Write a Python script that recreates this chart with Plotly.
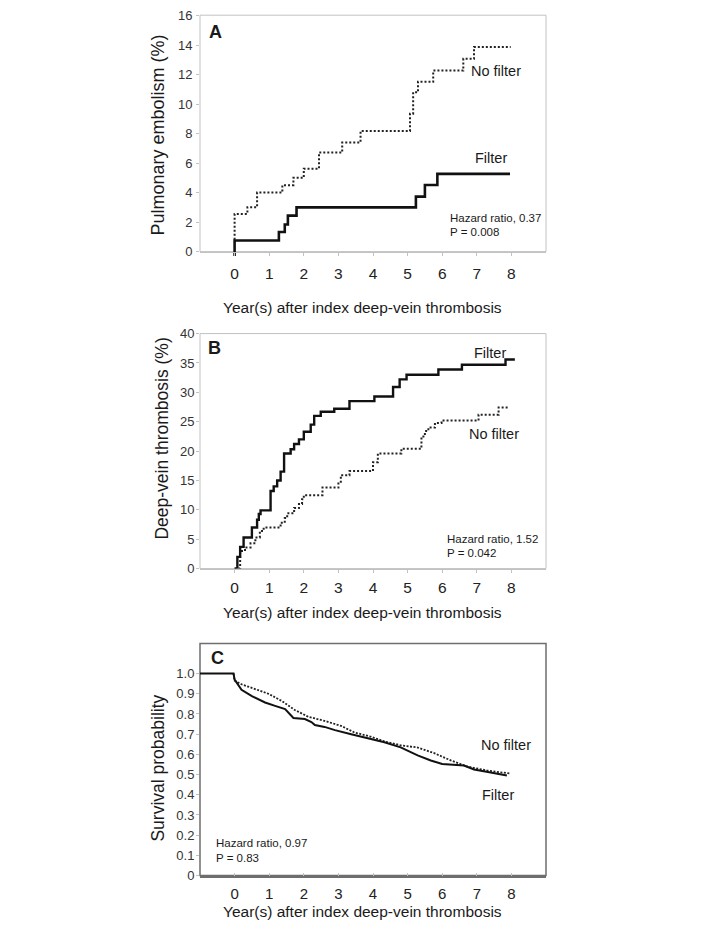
import plotly.graph_objects as go

# ---------------- data ----------------
years_ticks = [0, 1, 2, 3, 4, 5, 6, 7, 8]

# Panel A: pulmonary embolism (%)
a_filter_x = [0, 0, 1.28, 1.45, 1.54, 1.79, 5.24, 5.50, 5.86, 7.96]
a_filter_y = [-0.3, 0.75, 1.33, 1.84, 2.44, 3.0, 3.73, 4.51, 5.27, 5.27]
a_nofilter_x = [0, 0, 0.37, 0.65, 1.38, 1.70, 2.00, 2.44, 3.11, 3.64, 5.07, 5.16, 5.30, 5.74, 6.61, 6.92, 7.98]
a_nofilter_y = [0.8, 2.55, 3.0, 4.0, 4.5, 5.0, 5.62, 6.72, 7.4, 8.18, 9.35, 10.8, 11.52, 12.27, 13.07, 13.87, 13.87]
a_yticks = [0, 2, 4, 6, 8, 10, 12, 14, 16]

# Panel B: deep-vein thrombosis (%)
b_filter_x = [0, 0.08, 0.16, 0.26, 0.5, 0.65, 0.7, 0.75, 1.04, 1.13, 1.23, 1.33, 1.43, 1.62, 1.72, 1.86,
              2.0, 2.2, 2.3, 2.49, 2.88, 3.32, 4.04, 4.58, 4.77, 4.97, 5.89, 6.57, 7.83, 8.1]
b_filter_y = [0, 2.0, 3.7, 5.3, 7.0, 8.3, 9.3, 9.9, 13.2, 14.0, 15.0, 16.5, 19.6, 20.3, 21.2, 22.0,
              23.3, 24.5, 26.0, 26.7, 27.2, 28.5, 29.3, 30.9, 32.2, 33.0, 33.9, 34.7, 35.6, 35.6]
b_nofilter_x = [0, 0.16, 0.3, 0.46, 0.6, 0.73, 0.84, 1.33, 1.45, 1.52, 1.72, 1.86, 1.95, 2.0, 2.54, 3.0,
                3.07, 3.32, 4.0, 4.14, 4.82, 5.4, 5.5, 5.6, 5.79, 5.98, 7.05, 7.63, 7.92]
b_nofilter_y = [0, 3.0, 3.6, 4.3, 5.3, 6.4, 7.0, 7.8, 8.6, 9.4, 10.3, 11.0, 11.8, 12.5, 13.8, 14.5,
                15.9, 16.6, 18.1, 19.6, 20.4, 22.5, 23.4, 24.0, 24.8, 25.2, 26.2, 27.4, 27.4]
b_yticks = [0, 5, 10, 15, 20, 25, 30, 35, 40]

# Panel C: survival probability
c_filter_x = [-1, -0.03, 0, 0.2, 0.5, 0.88, 1.17, 1.46, 1.7, 2.03, 2.22, 2.32, 2.6, 2.9, 3.37, 3.85,
              4.33, 4.8, 5.29, 5.67, 6.0, 6.63, 6.92, 7.4, 7.87]
c_filter_y = [1.0, 1.0, 0.97, 0.92, 0.888, 0.857, 0.84, 0.824, 0.78, 0.775, 0.76, 0.745, 0.736, 0.72,
              0.70, 0.68, 0.66, 0.635, 0.595, 0.57, 0.552, 0.545, 0.525, 0.51, 0.495]
c_nofilter_x = [-0.03, 0, 0.2, 0.6, 0.98, 1.36, 1.74, 2.13, 2.6, 3.08, 3.47, 3.95, 4.33, 4.8, 5.29,
                5.77, 6.25, 6.72, 7.3, 7.97]
c_nofilter_y = [1.0, 0.965, 0.947, 0.922, 0.90, 0.865, 0.82, 0.786, 0.766, 0.741, 0.708, 0.687, 0.664,
                0.645, 0.634, 0.606, 0.57, 0.54, 0.52, 0.505]
c_yticks = [0, 0.1, 0.2, 0.3, 0.4, 0.5, 0.6, 0.7, 0.8, 0.9, 1.0]
c_yticklabels = ["0", "0.1", "0.2", "0.3", "0.4", "0.5", "0.6", "0.7", "0.8", "0.9", "1.0"]

x_title = "Year(s) after index deep-vein thrombosis"

# ---------------- layout helpers ----------------
# page offset/scale observed in the photographed page: shown = offset + scale * figure px
W, H = 697, 936
OX, OY, SY = 8.0, 14.4, 0.984
FONT = "Liberation Sans, Arial, Helvetica, sans-serif"


def px(x):
    return (x - OX) / W


def py(y):
    return min(1.0, 1 - ((y - OY) / SY) / H)


def panel(top_px, bot_px, v1, p1, v2, p2):
    """domain from pixel limits; range so that value v1 sits at pixel p1 and v2 at p2."""
    top_px = max(top_px, OY + 0.2)
    per_px = (v2 - v1) / (p2 - p1)
    r_top = v1 + (top_px - p1) * per_px
    r_bot = v1 + (bot_px - p1) * per_px
    return [py(bot_px), py(top_px)], [r_bot, r_top], top_px


A_dom, A_range, A_top = panel(12, 256, 0, 251, 16, 15)
B_dom, B_range, B_top = panel(333, 568, 0, 568, 40, 333)
C_dom, C_range, C_top = panel(643, 875, 0, 875, 1.0, 673)
XD = [px(200), px(546)]
X_range = [-1, 9]


def ypaper(v, dom, rng):
    return dom[0] + (v - rng[0]) / (rng[1] - rng[0]) * (dom[1] - dom[0])


zeroA = ypaper(0, A_dom, A_range)

SOLID = dict(color="#111111", width=2.6, shape="hv")
DOT = dict(color="#222222", width=2.0, dash="2px,2px", shape="hv")

fig = go.Figure()
fig.add_trace(go.Scatter(x=a_nofilter_x, y=a_nofilter_y, mode="lines", line=DOT, xaxis="x", yaxis="y"))
fig.add_trace(go.Scatter(x=a_filter_x, y=a_filter_y, mode="lines", line=SOLID, xaxis="x", yaxis="y"))
fig.add_trace(go.Scatter(x=b_nofilter_x, y=b_nofilter_y, mode="lines", line=DOT, xaxis="x2", yaxis="y2"))
fig.add_trace(go.Scatter(x=b_filter_x, y=b_filter_y, mode="lines", line=dict(SOLID, width=2.4), xaxis="x2", yaxis="y2"))
fig.add_trace(go.Scatter(x=c_nofilter_x, y=c_nofilter_y, mode="lines",
                         line=dict(color="#222222", width=1.8, dash="2px,1.5px"), xaxis="x3", yaxis="y3"))
fig.add_trace(go.Scatter(x=c_filter_x, y=c_filter_y, mode="lines",
                         line=dict(color="#111111", width=2.0), xaxis="x3", yaxis="y3"))

LIGHT = "#c2c2c2"
DARK = "#6e6e6e"

xcommon = dict(range=X_range, tickvals=years_ticks, ticks="outside", ticklen=3, showgrid=False,
               zeroline=False, tickfont=dict(size=15.5, color="#222", family=FONT))
ycommon = dict(ticks="outside", ticklen=3, showgrid=False, zeroline=False, showline=False,
               tickfont=dict(size=13, color="#333", family=FONT))

fig.update_layout(
    width=W, height=H, margin=dict(l=0, r=0, t=0, b=0),
    paper_bgcolor="white", plot_bgcolor="white", showlegend=False,
    font=dict(family=FONT, color="#222"),
    xaxis=dict(xcommon, domain=XD, anchor="free", position=zeroA, showline=True, linecolor=LIGHT,
               tickcolor=LIGHT, ticklabelstandoff=5),
    yaxis=dict(ycommon, domain=A_dom, range=A_range, anchor="x", tickvals=a_yticks, tickcolor=LIGHT,
               ticklabelstandoff=1),
    xaxis2=dict(xcommon, domain=XD, anchor="y2", showline=True, linecolor=LIGHT, tickcolor=LIGHT,
                ticklabelstandoff=2),
    yaxis2=dict(ycommon, domain=B_dom, range=B_range, anchor="x2", tickvals=b_yticks, tickcolor=LIGHT,
                ticklabelstandoff=-1),
    xaxis3=dict(xcommon, domain=XD, anchor="y3", showline=True, linecolor=DARK, linewidth=1.5,
                ticks="inside", tickcolor=LIGHT, ticklabelstandoff=4,
                tickfont=dict(size=15, color="#222", family=FONT)),
    yaxis3=dict(ycommon, domain=C_dom, range=C_range, anchor="x3", tickvals=c_yticks,
                ticktext=c_yticklabels, tickcolor=LIGHT, ticklabelstandoff=-1),
)

# frames
fig.add_shape(type="rect", xref="paper", yref="paper", x0=XD[0], x1=XD[1], y0=zeroA, y1=A_dom[1],
              line=dict(color=LIGHT, width=1), layer="below")
fig.add_shape(type="rect", xref="paper", yref="paper", x0=XD[0], x1=XD[1], y0=B_dom[0], y1=B_dom[1],
              line=dict(color=LIGHT, width=1), layer="below")
fig.add_shape(type="rect", xref="paper", yref="paper", x0=XD[0], x1=XD[1], y0=C_dom[0], y1=C_dom[1],
              line=dict(color=DARK, width=1.5), layer="below")


def note(x, y, text, size=14, xanchor="center", bold=False, angle=0):
    if bold:
        text = "<b>" + text + "</b>"
    fig.add_annotation(x=px(x), y=py(y), xref="paper", yref="paper", text=text, showarrow=False,
                       xanchor=xanchor, yanchor="middle", textangle=angle,
                       font=dict(size=size, family=FONT, color="#1a1a1a"))


# Panel A texts
note(215, 31, "A", size=18, bold=True)
note(496, 70, "No filter", size=14.5)
note(491, 157.5, "Filter", size=14.5)
note(448, 217, "Hazard ratio, 0.37", size=11.5, xanchor="left")
note(448, 231, "P = 0.008", size=11.5, xanchor="left")
note(158, 135, "Pulmonary embolism (%)", size=18, angle=-90)
note(363, 307, x_title, size=15.5)

# Panel B texts
note(214, 347.5, "B", size=18, bold=True)
note(490, 352.5, "Filter", size=14.5)
note(494, 433, "No filter", size=14.5)
note(445, 538, "Hazard ratio, 1.52", size=11.5, xanchor="left")
note(445, 552, "P = 0.042", size=11.5, xanchor="left")
note(162, 438, "Deep-vein thrombosis (%)", size=17.5, angle=-90)
note(363, 612, x_title, size=15.5)

# Panel C texts
note(217, 657, "C", size=18, bold=True)
note(506, 744, "No filter", size=14.5)
note(497.5, 794.5, "Filter", size=14.5)
note(214, 842, "Hazard ratio, 0.97", size=11.5, xanchor="left")
note(214, 857, "P = 0.83", size=11.5, xanchor="left")
note(158, 768, "Survival probability", size=17.5, angle=-90)
note(363, 911, x_title, size=15.5)

fig.write_html("out.html")
